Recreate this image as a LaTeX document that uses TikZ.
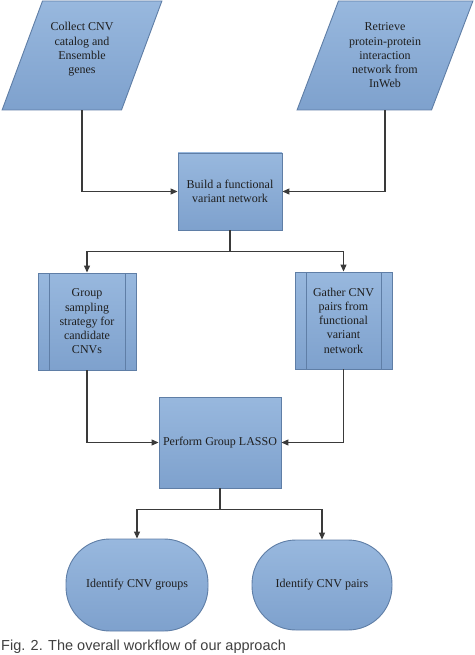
\documentclass[tikz,border=0pt]{standalone}
\usepackage{fontspec}
\setmainfont{Liberation Serif}
\newfontfamily\capfont{Liberation Sans}
\usetikzlibrary{positioning, arrows.meta, shapes.geometric, calc}

\definecolor{boxtop}{HTML}{98B8DE}
\definecolor{boxbot}{HTML}{7EA1CD}
\definecolor{boxline}{HTML}{5F7EA6}
\definecolor{flowline}{HTML}{3A3A3A}

\tikzset{
    basebox/.style={draw=boxline, line width=0.9pt, top color=boxtop, bottom color=boxbot,
        text=black!88, font=\fontsize{12}{14.3}\selectfont, align=center, inner sep=2pt},
    iobox/.style={basebox, trapezium, trapezium left angle=64, trapezium right angle=116,
        trapezium stretches=true},
    procbox/.style={basebox, rectangle},
    predef/.style={basebox, rectangle, path picture={
        \draw[boxline, line width=0.9pt]
            ([xshift=11pt]path picture bounding box.north west) -- ([xshift=11pt]path picture bounding box.south west)
            ([xshift=-11pt]path picture bounding box.north east) -- ([xshift=-11pt]path picture bounding box.south east);}},
    termbox/.style={basebox, rectangle, rounded corners=44pt},
    arr/.style={draw=flowline, line width=1.1pt, -{Triangle[length=7pt,width=6pt]}}
}

\begin{document}
\begin{tikzpicture}[x=1pt, y=-1pt]
    \useasboundingbox (0,0) rectangle (474,655);
    \clip (0,0) rectangle (474,655);

    \node[iobox, minimum width=160pt, minimum height=109pt, text depth=15pt] (collect) at (82,55.5)
        {Collect CNV\\catalog and\\Ensemble\\genes};
    \node[iobox, minimum width=176pt, minimum height=109pt] (retrieve) at (385,55.5)
        {Retrieve\\protein-protein\\interaction\\network from\\InWeb};
    \node[procbox, minimum width=104pt, minimum height=77pt] (build) at (230,191.5)
        {Build a functional\\variant network};
    \node[predef, minimum width=98pt, minimum height=97pt] (group) at (87,321.5)
        {Group\\sampling\\strategy for\\candidate\\CNVs};
    \node[predef, minimum width=97pt, minimum height=97pt] (gather) at (343.5,320.5)
        {Gather CNV\\pairs from\\functional\\variant\\network};
    \node[procbox, minimum width=122pt, minimum height=91pt, text height=45pt, text depth=40pt, inner ysep=3pt]
        (perform) at (220,442.5) {Perform Group LASSO};
    \node[termbox, minimum width=142pt, minimum height=92pt] (idgroups) at (137,585) {Identify CNV groups};
    \node[termbox, minimum width=140pt, minimum height=90pt] (idpairs) at (322,585) {Identify CNV pairs};

    \draw[arr] (collect) |- (build);
    \draw[arr] (retrieve) |- (build);
    \draw[arr] (build.south) -- ++(0,21) -| (group.north);
    \draw[arr] (build.south) -- ++(0,21) -| (gather.north);
    \draw[arr] (group) |- (perform);
    \draw[arr] (gather) |- (perform);
    \draw[arr] (perform.south) -- ++(0,21) -| (idgroups.north);
    \draw[arr] (perform.south) -- ++(0,21) -| (idpairs.north);

    \node[anchor=base west, inner sep=0pt, text=black!75, font=\capfont\fontsize{14.5}{17}\selectfont]
        (caption) at (1,650) {Fig. 2. The overall workflow of our approach};
\end{tikzpicture}
\end{document}
